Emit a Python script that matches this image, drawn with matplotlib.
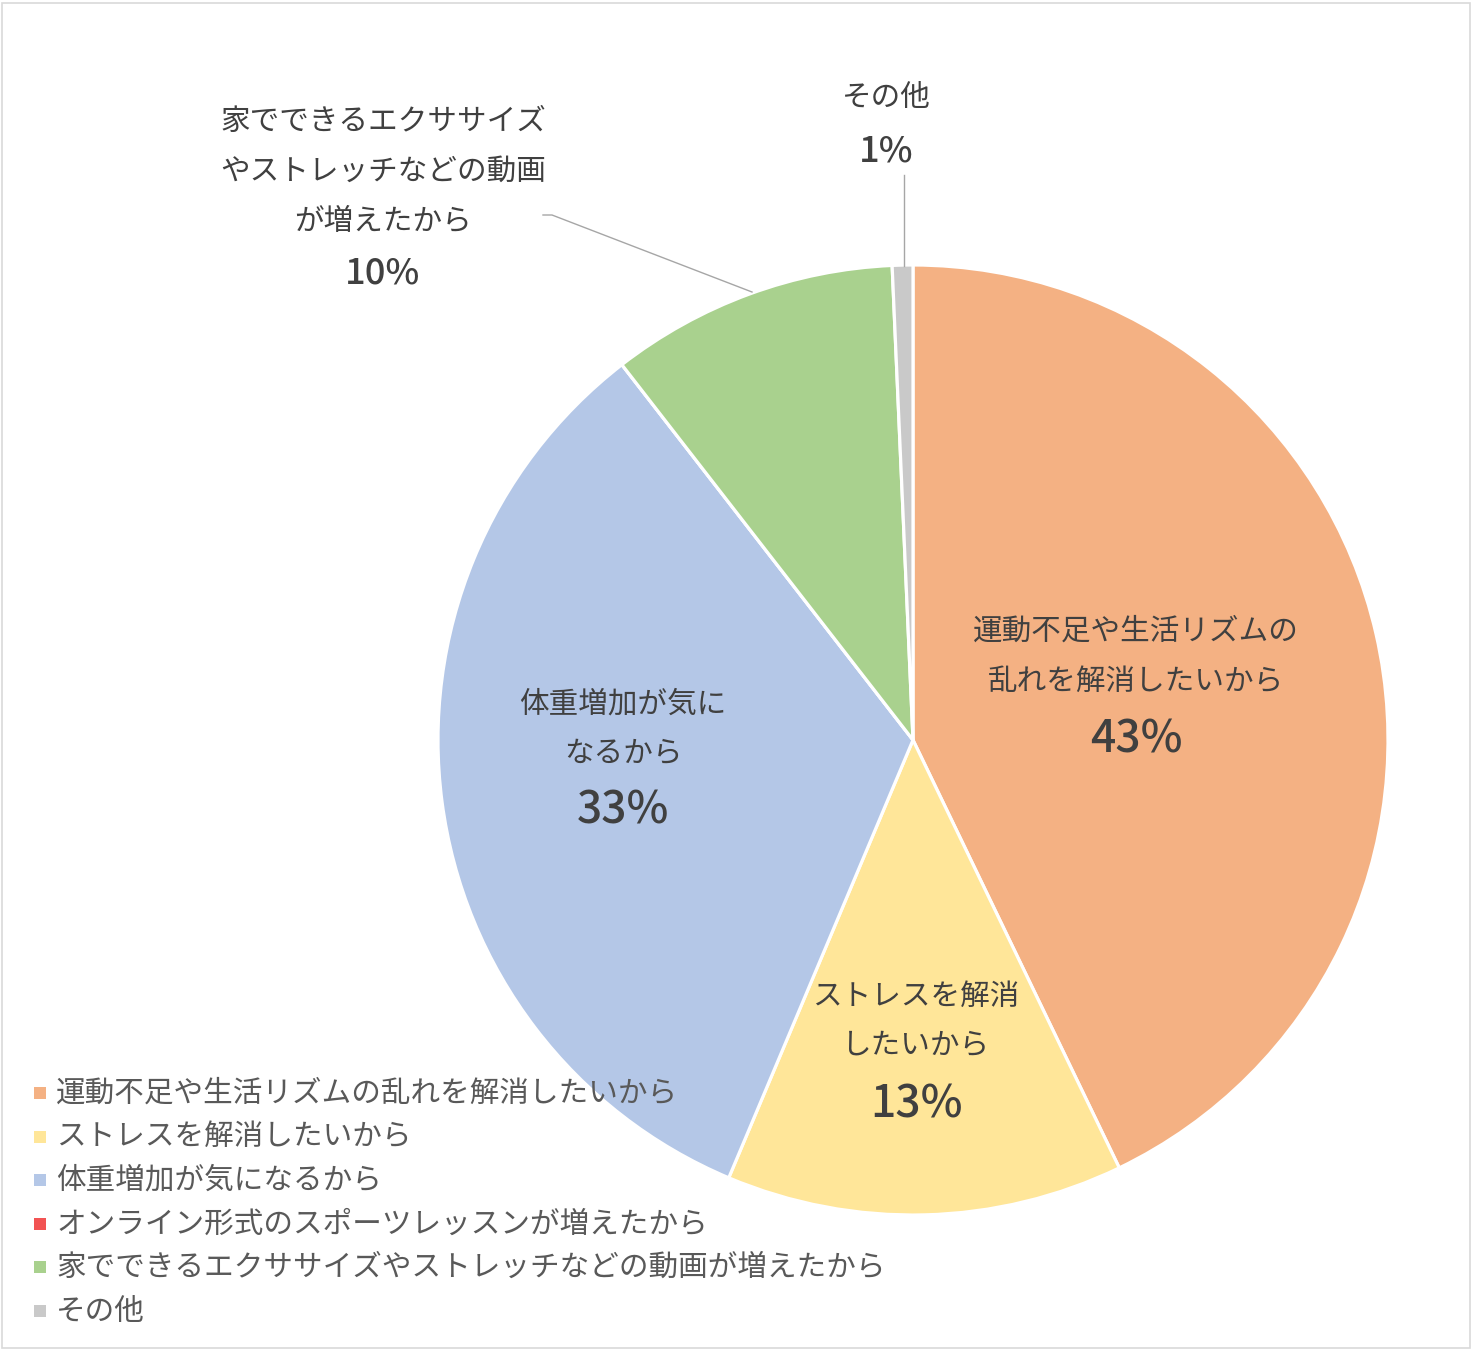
import matplotlib
matplotlib.use("Agg")
import matplotlib.pyplot as plt
from matplotlib.patches import Rectangle

plt.rcParams['font.family'] = ['Noto Sans CJK JP', 'DejaVu Sans']

categories = [
    "運動不足や生活リズムの乱れを解消したいから",
    "ストレスを解消したいから",
    "体重増加が気になるから",
    "オンライン形式のスポーツレッスンが増えたから",
    "家でできるエクササイズやストレッチなどの動画が増えたから",
    "その他",
]
values = [42.85, 13.49, 33.16, 0.0, 9.8, 0.7]
colors = ["#F4B183", "#FFE699", "#B4C7E7", "#F25353", "#A9D18E", "#C9C9C9"]

# wrapped labels as displayed on the chart
label_lines = [
    "運動不足や生活リズムの\n乱れを解消したいから",
    "ストレスを解消\nしたいから",
    "体重増加が気に\nなるから",
    None,
    "家でできるエクササイズ\nやストレッチなどの動画\nが増えたから",
    "その他",
]

W, H = 1473, 1350
fig = plt.figure(figsize=(W / 100, H / 100), dpi=100)
ax = fig.add_axes([0, 0, 1, 1])

def py(y):
    return H - y

TXT = "#404040"
cx, cy, R = 913, 740, 475
ax.pie(values, colors=colors, startangle=90, counterclock=False,
       center=(cx, py(cy)), radius=R,
       wedgeprops=dict(edgecolor="white", linewidth=2.3))
ax.set_xlim(0, W)
ax.set_ylim(0, H)
ax.set_aspect("equal")
ax.axis("off")

# label placement (pixel coords): (x, y of first line, line step, pct y, text size, pct size)
placements = {
    0: (1136, 631, 50, 740, 21.3, 32),
    1: (916, 996, 50, 1105, 21.3, 32),
    2: (623, 704, 50, 811, 21.3, 32),
    4: (383, 121, 50, 274, 21.3, 26),
    5: (886, 97, 50, 151, 21.3, 26),
}
for i, (x, y0, step, ypct, fs, pfs) in placements.items():
    lines = label_lines[i].split("\n")
    for k, ln in enumerate(lines):
        ax.text(x, py(y0 + k * step), ln, ha="center", va="center",
                fontsize=fs, color=TXT, zorder=5)
    ax.text(x, py(ypct), f"{round(values[i])}%", ha="center", va="center",
            fontsize=pfs, color=TXT, fontweight="medium", zorder=5)

# leader lines
ax.plot([543, 552, 752], [py(215), py(215), py(292)], color="#A6A6A6", lw=1.0, zorder=4)
ax.plot([904, 904], [py(175), py(266)], color="#A6A6A6", lw=1.0, zorder=4)

# legend
ly0, lstep = 1093, 43.6
for i, name in enumerate(categories):
    y = ly0 + i * lstep
    ax.add_patch(Rectangle((34, py(y) - 6), 12, 12, facecolor=colors[i],
                           edgecolor="none", zorder=6))
    ax.text(56, py(y), name, ha="left", va="center", fontsize=21.3,
            color="#595959", zorder=6)

# outer border
fig.patches.append(Rectangle((2 / W, 2 / H), (W - 5) / W, (H - 5) / H,
                             transform=fig.transFigure, fill=False,
                             edgecolor="#D9D9D9", lw=1.2))

fig.savefig("out.png", dpi=100, facecolor="white")
